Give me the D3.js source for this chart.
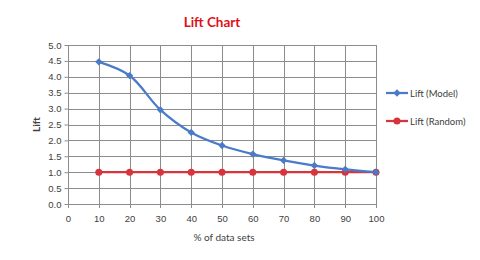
<!DOCTYPE html>
<html>
<head>
<meta charset="utf-8">
<script src="https://cdn.jsdelivr.net/npm/d3@7"></script>
<style>
  body { margin: 0; background: #fff; }
  svg { display: block; font-family: Lato, "Open Sans", sans-serif; }
</style>
</head>
<body>
<svg id="chart" width="480" height="260"></svg>
<script>
// data
const pct = [10, 20, 30, 40, 50, 60, 70, 80, 90, 100];
const liftModel = [4.47, 4.04, 2.96, 2.25, 1.84, 1.57, 1.37, 1.21, 1.09, 1.0];
const liftRandom = [1, 1, 1, 1, 1, 1, 1, 1, 1, 1];
const xTicks = [0, 10, 20, 30, 40, 50, 60, 70, 80, 90, 100];
const yTicks = [0, 0.5, 1, 1.5, 2, 2.5, 3, 3.5, 4, 4.5, 5];

const margin = { top: 45, left: 68, right: 104, bottom: 56 };
const width = 480, height = 260;

const svg = d3.select('#chart');

const x = d3.scaleLinear().domain([0, 100]).range([margin.left, width - margin.right]);
const y = d3.scaleLinear().domain([0, 5]).range([height - margin.bottom, margin.top]);

// gridlines
svg.append('g')
  .selectAll('line.h')
  .data(yTicks)
  .enter().append('line')
  .attr('x1', x(0)).attr('x2', x(100))
  .attr('y1', d => Math.round(y(d)) + 0.5).attr('y2', d => Math.round(y(d)) + 0.5)
  .attr('stroke', '#8c8c8c').attr('stroke-width', 1);

svg.append('g')
  .selectAll('line.v')
  .data(xTicks)
  .enter().append('line')
  .attr('y1', y(5)).attr('y2', y(0) + 4)
  .attr('x1', d => Math.round(x(d)) + 0.5).attr('x2', d => Math.round(x(d)) + 0.5)
  .attr('stroke', '#8c8c8c').attr('stroke-width', 1);

// y axis
const yAxis = d3.axisLeft(y).tickValues(yTicks).tickFormat(d3.format('.1f')).tickSize(4).tickPadding(3);
const gy = svg.append('g').attr('transform', `translate(${Math.round(x(0)) + 0.5},0)`).call(yAxis);
gy.select('.domain').remove();
gy.selectAll('line').attr('stroke', '#8c8c8c');
gy.selectAll('text').attr('fill', '#404040').style('font-size', '9.5px');

// x axis labels
const xAxis = d3.axisBottom(x).tickValues(xTicks).tickSize(0).tickPadding(11);
const gx = svg.append('g').attr('transform', `translate(0,${y(0)})`).call(xAxis);
gx.select('.domain').remove();
gx.selectAll('text').attr('fill', '#404040').style('font-size', '9.5px');

// smoothed line, like the spreadsheet's
const line = d3.line()
  .x((d, i) => x(pct[i]))
  .y(d => y(d))
  .curve(d3.curveCatmullRom.alpha(0.5));

svg.append('path')
  .datum(liftRandom)
  .attr('d', line)
  .attr('fill', 'none')
  .attr('stroke', '#d7343c')
  .attr('stroke-width', 2.25);

svg.append('g').selectAll('circle')
  .data(liftRandom)
  .enter().append('circle')
  .attr('cx', (d, i) => x(pct[i]))
  .attr('cy', d => y(d))
  .attr('r', 3.5)
  .attr('fill', '#d7343c');

svg.append('path')
  .datum(liftModel)
  .attr('d', line)
  .attr('fill', 'none')
  .attr('stroke', '#4a7bc8')
  .attr('stroke-width', 2.25);

const diamond = d3.symbol().type(d3.symbolDiamond2).size(34);
svg.append('g').selectAll('path')
  .data(liftModel)
  .enter().append('path')
  .attr('d', diamond)
  .attr('transform', (d, i) => `translate(${x(pct[i])},${y(d)})`)
  .attr('fill', '#4a7bc8');

// title
svg.append('text')
  .attr('x', 212).attr('y', 27)
  .attr('text-anchor', 'middle')
  .attr('fill', '#e0101a')
  .style('font-size', '13.5px').style('font-weight', '700')
  .text('Lift Chart');

// axis titles
svg.append('text')
  .attr('transform', `translate(40,${(y(0) + y(5)) / 2}) rotate(-90)`)
  .attr('text-anchor', 'middle')
  .attr('fill', '#404040')
  .style('font-size', '10px').style('font-weight', '700')
  .text('Lift');

svg.append('text')
  .attr('x', (x(0) + x(100)) / 2 + 2).attr('y', 241)
  .attr('text-anchor', 'middle')
  .attr('fill', '#404040')
  .style('font-size', '10px')
  .text('% of data sets');

// legend
const legendItems = [
  { name: 'Lift (Model)', color: '#4a7bc8', shape: 'diamond' },
  { name: 'Lift (Random)', color: '#d7343c', shape: 'circle' }
];
const legend = svg.append('g').attr('transform', 'translate(386,93)');
legendItems.forEach((item, i) => {
  const g = legend.append('g').attr('transform', `translate(0,${i * 28})`);
  g.append('line').attr('x1', 0).attr('x2', 22).attr('y1', 0).attr('y2', 0)
    .attr('stroke', item.color).attr('stroke-width', 2.25);
  if (item.shape === 'diamond') {
    g.append('path').attr('d', diamond).attr('transform', 'translate(11,0)').attr('fill', item.color);
  } else {
    g.append('circle').attr('cx', 11).attr('cy', 0).attr('r', 3.5).attr('fill', item.color);
  }
  g.append('text').attr('x', 24).attr('y', 3.5)
    .attr('fill', '#404040')
    .style('font-size', '9.5px')
    .text(item.name);
});
</script>
</body>
</html>
